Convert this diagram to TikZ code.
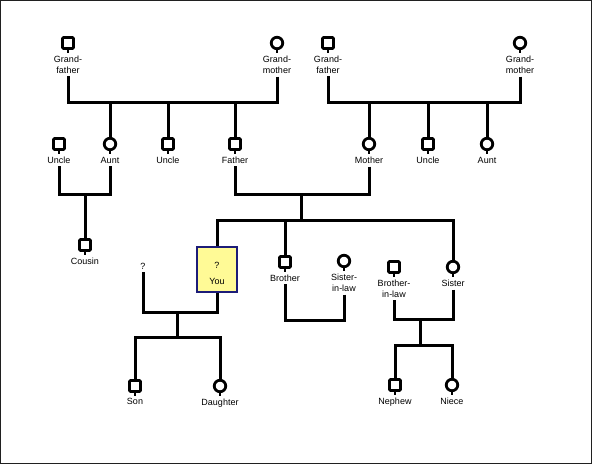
\documentclass[tikz,border=0pt]{standalone}
\usepackage{fontspec}
\setmainfont{Liberation Sans}
\usetikzlibrary{positioning}
\definecolor{youFill}{HTML}{FFFA96}
\definecolor{youEdge}{HTML}{1C1C78}
\definecolor{frameInk}{HTML}{202020}

\begin{document}
\begin{tikzpicture}[
  x=1pt, y=-1pt,
  font=\fontsize{9}{11}\selectfont,
  male/.style={draw, line width=2.8pt, rounded corners=1pt, minimum size=11pt, inner sep=0pt},
  female/.style={draw, circle, line width=2.8pt, minimum size=11.5pt, inner sep=0pt},
  you/.style={draw=youEdge, fill=youFill, line width=2.2pt, align=center, minimum width=40pt, minimum height=45pt, inner sep=0pt},
  who/.style={align=center, inner sep=1pt},
  tie/.style={line width=3pt},
  from/.style={tie, shorten <=2pt},
  stub/.style={line width=2.2pt},
]
\useasboundingbox (0,0) rectangle (592,464);
\draw[frameInk, line width=1pt] (0.5,0.5) rectangle (591.5,463.5);

% =========================== GRANDPARENTS ===========================
\node[male]   (gfaF) at (68,43) {};
\node[female] (gmaF) at (277,43) {};
\node[male]   (gfaM) at (328,43) {};
\node[female] (gmaM) at (520,43) {};

% =========================== PARENTS, UNCLES, AUNTS ===========================
\node[male]   (uncA)   at (59,144) {};
\node[female] (auntF)  at (110,144) {};
\node[male]   (uncF)   at (168,144) {};
\node[male]   (father) at (235,144) {};
\node[female] (mother) at (369,144) {};
\node[male]   (uncM)   at (428,144) {};
\node[female] (auntM)  at (487,144) {};

% =========================== YOUR GENERATION ===========================
\node[male]   (cousin)   at (85,245) {};
\node[who]    (spouse)   at (143,266) {?};
\node[you]    (you)      at (217,269.5) {\rule{0pt}{14pt}?\\[5pt]You};
\node[male]   (brother)  at (285,262) {};
\node[female] (sisInLaw) at (344,261) {};
\node[male]   (broInLaw) at (394,267) {};
\node[female] (sister)   at (453,267) {};

% =========================== CHILDREN ===========================
\node[male]   (son)      at (135,386) {};
\node[female] (daughter) at (220,386) {};
\node[male]   (nephew)   at (395,385) {};
\node[female] (niece)    at (452,385) {};

% names under the symbols
\foreach \p/\t in {gfaF/{Grand-\\father}, gmaF/{Grand-\\mother}, gfaM/{Grand-\\father}, gmaM/{Grand-\\mother},
                   uncA/Uncle, auntF/Aunt, uncF/Uncle, father/Father, mother/Mother, uncM/Uncle, auntM/Aunt,
                   cousin/Cousin, brother/Brother, sisInLaw/{Sister-\\in-law}, broInLaw/{Brother-\\in-law}, sister/Sister,
                   son/Son, daughter/Daughter, nephew/Nephew, niece/Niece}{
  \node[who, below=4.5pt of \p] (\p-l) {\t};
  \draw[stub] (\p.south) -- +(0,3);}

% =========================== LINES ===========================
\coordinate (barF) at (172,102);
\coordinate (barM) at (424,102);
\draw[from] (gfaF-l.south) |- (barF);
\draw[from] (gmaF-l.south) |- (barF);
\draw[from] (gfaM-l.south) |- (barM);
\draw[from] (gmaM-l.south) |- (barM);
\foreach \c in {auntF,uncF,father} \draw[tie] (\c |- barF) -- (\c.north);
\foreach \c in {mother,uncM,auntM} \draw[tie] (\c |- barM) -- (\c.north);

% uncle and aunt -> cousin
\coordinate (barA) at (85,194);
\draw[from] (uncA-l.south) |- (barA);
\draw[from] (auntF-l.south) |- (barA);
\draw[tie] (barA) -- (cousin.north);

% father and mother -> you, brother, sister
\coordinate (barP) at (301,194);
\coordinate (sibs) at (301,220);
\draw[from] (father-l.south) |- (barP);
\draw[from] (mother-l.south) |- (barP);
\draw[tie] (barP) -- (sibs);
\draw[tie] (you.north) |- (sibs) -| (sister.north);
\draw[tie] (brother |- sibs) -- (brother.north);

% you and spouse -> son, daughter
\coordinate (barY) at (177,312);
\coordinate (kidsY) at (177,337);
\draw[from] (spouse.south) |- (barY);
\draw[tie] (you.south) |- (barY);
\draw[tie] (barY) -- (kidsY);
\draw[tie] (son.north) |- (kidsY) -| (daughter.north);

% brother and sister-in-law
\coordinate (barB) at (314.5,320);
\draw[from] (brother-l.south) |- (barB);
\draw[from] (sisInLaw-l.south) |- (barB);

% brother-in-law and sister -> nephew, niece
\coordinate (barS) at (420,319);
\coordinate (kidsS) at (420,345);
\draw[from] (broInLaw-l.south) |- (barS);
\draw[from] (sister-l.south) |- (barS);
\draw[tie] (barS) -- (kidsS);
\draw[tie] (nephew.north) |- (kidsS) -| (niece.north);

\end{tikzpicture}
\end{document}
